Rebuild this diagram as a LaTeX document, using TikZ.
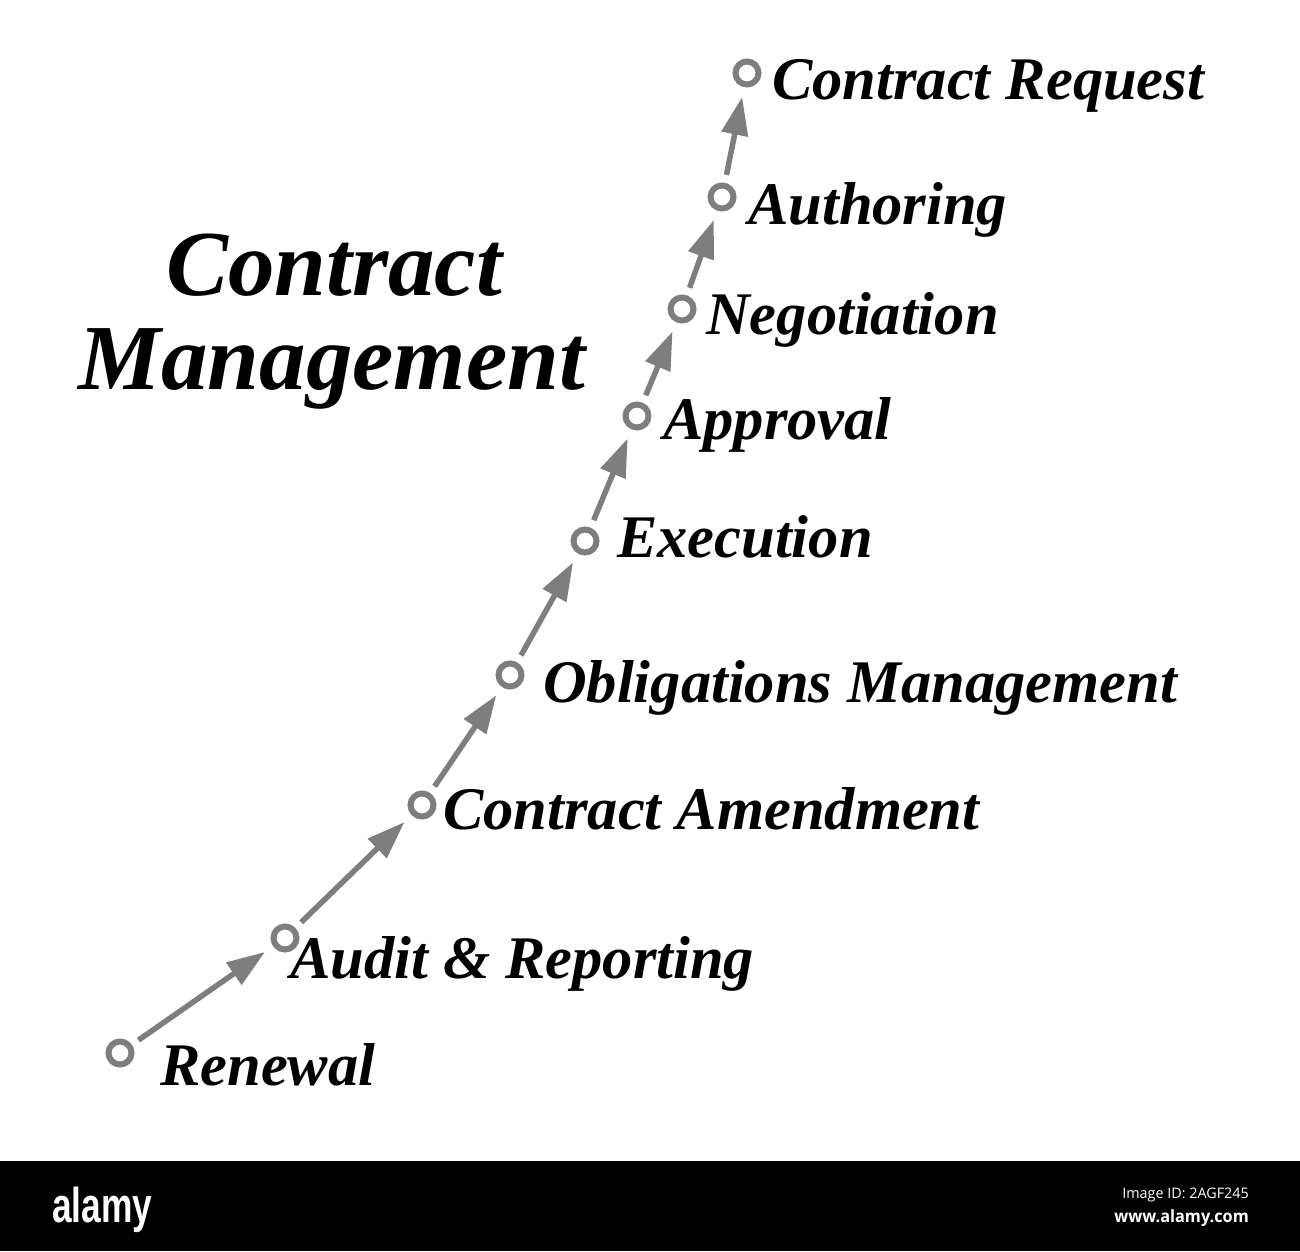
\documentclass[tikz,border=0pt]{standalone}
\usepackage{fontspec}
\setmainfont{Liberation Serif}
\newfontfamily\lblfont{Liberation Serif}
\newfontfamily\barfont{Liberation Sans}
\newfontfamily\idfont{Open Sans}
\usetikzlibrary{arrows.meta}
\definecolor{stepgray}{RGB}{126,126,126}
\tikzset{
  x=1pt,y=1pt,
  stepdot/.style={circle,draw=stepgray,line width=6pt,minimum size=23pt,inner sep=0pt},
  steparrow/.style={draw=stepgray,line width=5.5pt,-{Triangle[length=38pt,width=26pt]},shorten <=8pt,shorten >=10pt},
  lbl/.style={anchor=base west,inner sep=0pt,font=\lblfont\bfseries\itshape\fontsize{60.5}{60.5}\selectfont},
  ttl/.style={anchor=base,inner sep=0pt,font=\lblfont\bfseries\itshape\fontsize{93}{93}\selectfont},
}
\begin{document}
\begin{tikzpicture}
\useasboundingbox (0,0) rectangle (1300,1251);
\fill[white] (0,90) rectangle (1300,1251);
% bottom bar
\fill[black] (0,0) rectangle (1300,90);
\node[anchor=base west,inner sep=0pt,text=white,font=\barfont\bfseries\fontsize{49}{49}\selectfont,xscale=0.72] (alamy) at (52,29) {alamy};
\node[anchor=base east,inner sep=0pt,text=white,font=\idfont\fontsize{14.5}{14.5}\selectfont,xscale=0.99] (imgid) at (1249,53) {Image ID: 2AGF245};
\node[anchor=base east,inner sep=0pt,text=white,font=\idfont\bfseries\fontsize{17}{17}\selectfont,xscale=0.96] (www) at (1249,29) {www.alamy.com};
% title
\node[ttl] (t1) at (334,955) {Contract};
\node[ttl] (t2) at (332,861) {Management};
% circles
\node[stepdot] (c1) at (120,198) {};
\node[stepdot] (c2) at (285,313) {};
\node[stepdot] (c3) at (422,446) {};
\node[stepdot] (c4) at (510,576) {};
\node[stepdot] (c5) at (585,710) {};
\node[stepdot] (c6) at (637,835) {};
\node[stepdot] (c7) at (682,942) {};
\node[stepdot] (c8) at (722,1054) {};
\node[stepdot] (c9) at (747,1178) {};
% labels
\node[lbl] (l1) at (160,166) {Renewal};
\node[lbl] (l2) at (290,273) {Audit \& Reporting};
\node[lbl] (l3) at (443,421) {Contract Amendment};
\node[lbl] (l4) at (543,548) {Obligations Management};
\node[lbl] (l5) at (617,693) {Execution};
\node[lbl] (l6) at (663,811) {Approval};
\node[lbl] (l7) at (706,916) {Negotiation};
\node[lbl] (l8) at (748,1026) {Authoring};
\node[lbl] (l9) at (772,1151) {Contract Request};
% arrows
\foreach \a/\b in {c1/c2,c2/c3,c3/c4,c4/c5,c5/c6,c6/c7,c7/c8,c8/c9}
  \draw[steparrow] (\a) -- (\b);
\end{tikzpicture}
\end{document}
